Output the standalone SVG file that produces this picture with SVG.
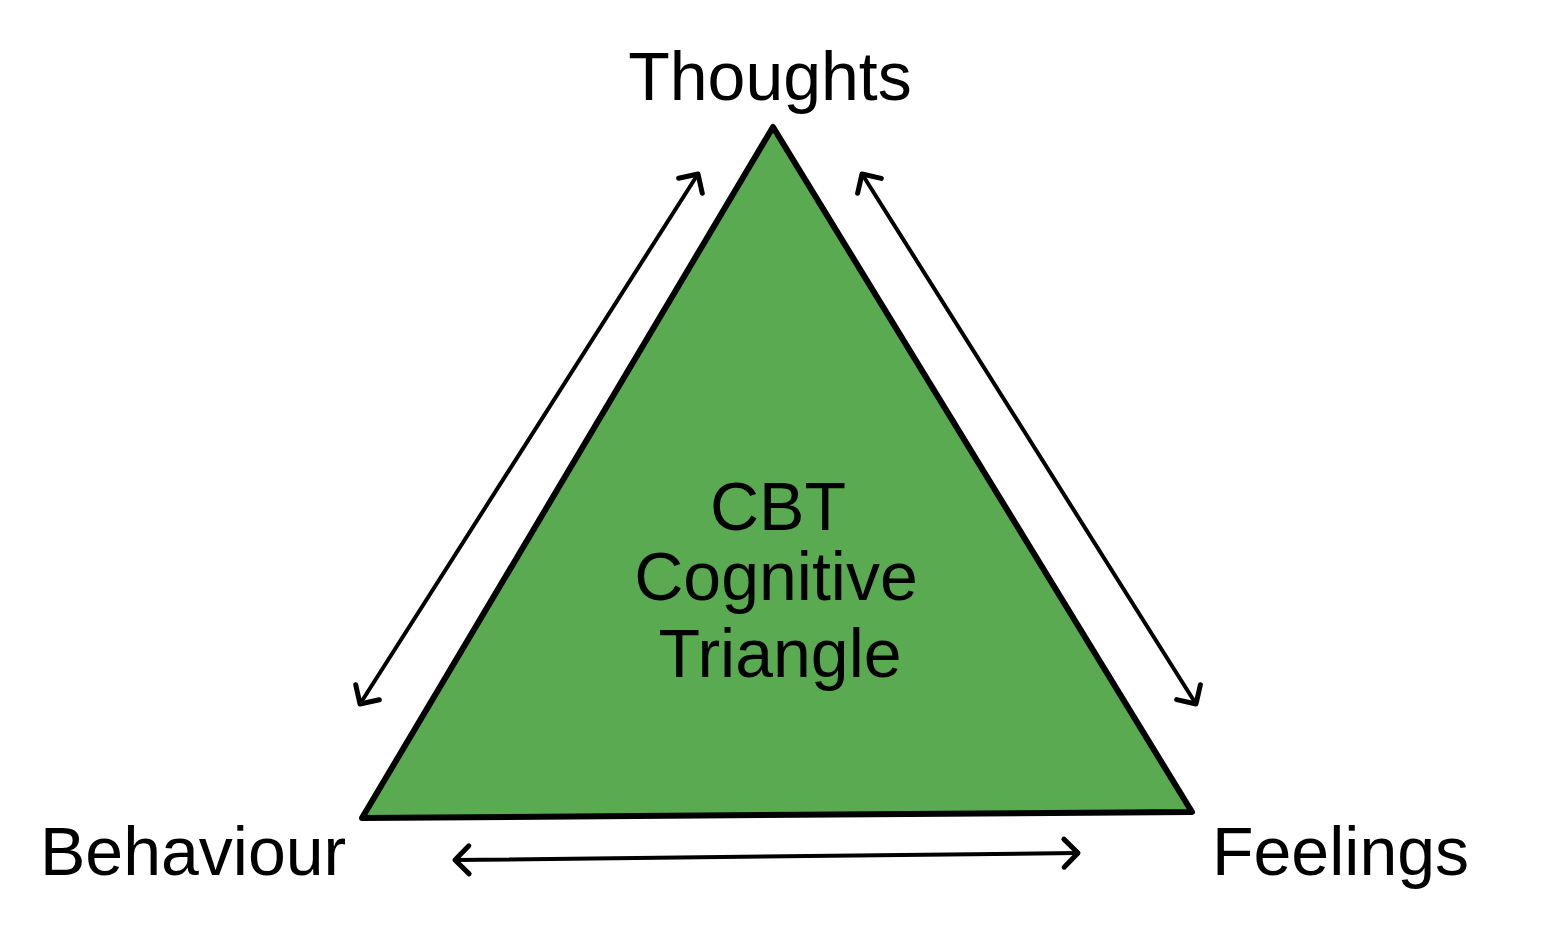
<svg xmlns="http://www.w3.org/2000/svg" width="1550" height="930" viewBox="0 0 1550 930">
<style>
.t{font-family:"Liberation Sans",Arial,sans-serif;font-size:68px;fill:#000}
.a{stroke:#000;stroke-width:4;fill:none;stroke-linecap:round}
</style>
<defs>
<marker id="h" markerUnits="userSpaceOnUse" markerWidth="40" markerHeight="40" refX="20" refY="20" orient="auto-start-reverse" viewBox="0 0 40 40">
<path d="M6 6 L20 20 L6 34" fill="none" stroke="#000" stroke-width="5" stroke-linecap="round" stroke-linejoin="round"/>
</marker>
</defs>
<rect width="1550" height="930" fill="#fff"/>
<g id="triangle">
<path d="M773 127 L1192 812 L362 818 Z" fill="#5aaa52" stroke="#000" stroke-width="6" stroke-linejoin="round"/>
<text class="t" x="778" y="530" text-anchor="middle">CBT</text>
<text class="t" x="776" y="600" text-anchor="middle">Cognitive</text>
<text class="t" x="780" y="677" text-anchor="middle">Triangle</text>
</g>
<g id="thoughts"><text class="t" x="770" y="100" text-anchor="middle">Thoughts</text></g>
<g id="behaviour"><text class="t" x="40" y="875">Behaviour</text></g>
<g id="feelings"><text class="t" x="1212" y="875">Feelings</text></g>
<g id="connectors">
<line class="a" x1="698" y1="174" x2="360" y2="704" marker-start="url(#h)" marker-end="url(#h)"/>
<line class="a" x1="862" y1="174" x2="1196" y2="704" marker-start="url(#h)" marker-end="url(#h)"/>
<line class="a" x1="455" y1="860" x2="1078" y2="853" marker-start="url(#h)" marker-end="url(#h)"/>
</g>
</svg>
